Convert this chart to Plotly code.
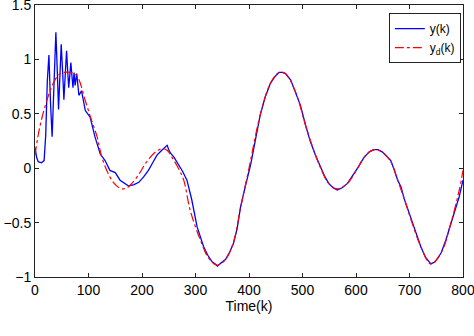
import plotly.graph_objects as go

# desired trajectory y_d(k)
k_d = [0, 9, 22, 34, 45, 55, 65, 78, 94, 105, 116, 125, 140, 152, 162, 172, 181, 195,
       206, 222, 232, 240, 248, 256, 268, 278, 290, 309, 325, 340, 356, 371, 384, 400,
       421, 440, 456, 468, 487, 506, 515, 534, 549, 565, 584, 603, 615, 628, 636, 649,
       665, 678, 690, 702, 721, 740, 759, 777, 793, 800]
y_d = [0.12, 0.38, 0.62, 0.78, 0.86, 0.88, 0.88, 0.85, 0.62, 0.45, 0.29, 0.10, -0.08, -0.16,
       -0.19, -0.18, -0.14, -0.05, 0.04, 0.135, 0.17, 0.18, 0.16, 0.10, 0.0, -0.11, -0.385,
       -0.66, -0.83, -0.89, -0.84, -0.68, -0.37, 0.0, 0.49, 0.78, 0.88, 0.87, 0.70, 0.39,
       0.25, 0.0, -0.14, -0.19, -0.14, 0.0, 0.10, 0.16, 0.17, 0.15, 0.06, -0.11, -0.28,
       -0.46, -0.72, -0.88, -0.78, -0.51, -0.20, -0.02]

# system output y(k)
k_y = [0, 3, 6, 12, 17, 20, 23, 26, 29, 32, 35, 39, 42, 44, 47, 49, 52, 54, 57, 59, 61, 63,
       65, 67, 69, 71, 73, 75, 78, 82, 87, 94, 103, 112, 122, 131, 140, 150, 159, 168, 175,
       185, 194, 203, 212, 220, 228, 237, 243, 247, 250, 253, 260, 268, 276, 284, 293, 303,
       315, 323, 331, 337, 341, 348, 356, 364, 371, 378, 384, 393, 403, 412, 421, 430, 440,
       448, 456, 462, 468, 478, 487, 496, 506, 515, 525, 534, 542, 549, 557, 565, 574, 584,
       594, 603, 615, 625, 634, 641, 649, 657, 665, 671, 678, 684, 690, 702, 712, 721, 730,
       740, 748, 759, 768, 777, 785, 793, 800]
y_y = [0.19, 0.10, 0.06, 0.05, 0.07, 0.3, 0.8, 1.04, 0.6, 0.29, 0.7, 1.25, 0.85, 0.54, 0.9,
       1.14, 0.85, 0.63, 0.9, 1.08, 0.9, 0.74, 0.85, 0.97, 0.85, 0.74, 0.88, 0.76, 0.87, 0.67,
       0.71, 0.53, 0.47, 0.29, 0.13, 0.07, -0.02, -0.04, -0.11, -0.14, -0.165, -0.15, -0.13,
       -0.08, -0.02, 0.05, 0.12, 0.165, 0.19, 0.21, 0.17, 0.14, 0.10, 0.04, -0.03, -0.11,
       -0.29, -0.54, -0.72, -0.80, -0.86, -0.88, -0.90, -0.87, -0.84, -0.77, -0.69, -0.55,
       -0.36, -0.17, 0.03, 0.26, 0.49, 0.65, 0.78, 0.84, 0.88, 0.88, 0.87, 0.81, 0.70, 0.58,
       0.39, 0.24, 0.11, 0.0, -0.08, -0.14, -0.18, -0.20, -0.18, -0.14, -0.07, 0.0, 0.10,
       0.15, 0.17, 0.17, 0.15, 0.11, 0.07, -0.01, -0.11, -0.17, -0.28, -0.45, -0.60, -0.72,
       -0.82, -0.88, -0.86, -0.78, -0.66, -0.51, -0.38, -0.26, -0.11]

x_ticks = [0, 100, 200, 300, 400, 500, 600, 700, 800]
y_ticks = [-1, -0.5, 0, 0.5, 1, 1.5]
y_tick_text = ["\u22121", "\u22120.5", "0", "0.5", "1", "1.5"]

FONT = "Liberation Sans, Arial"

fig = go.Figure()
fig.add_trace(go.Scatter(x=k_y, y=y_y, mode="lines", name="y(k)",
                         line=dict(color="#0000ff", width=1.3)))
fig.add_trace(go.Scatter(x=k_d, y=y_d, mode="lines", name="y<sub>d</sub>(k)",
                         line=dict(color="#ff0000", width=1.2, dash="dashdot", shape="spline")))

axis_common = dict(showline=True, linecolor="#222", linewidth=1, mirror="ticks",
                   ticks="inside", ticklen=4, tickcolor="#222", showgrid=False,
                   zeroline=False, ticklabeloverflow="allow", automargin=False,
                   tickfont=dict(family=FONT, size=14, color="#000"))

fig.update_layout(
    width=474, height=336,
    margin=dict(l=35, r=11, t=5, b=59),
    paper_bgcolor="white", plot_bgcolor="white",
    showlegend=True,
    legend=dict(x=0.995, y=0.97, xanchor="right", yanchor="top",
                bgcolor="white", bordercolor="#222", borderwidth=1,
                font=dict(family=FONT, size=12, color="#000"),
                tracegroupgap=0, itemwidth=30),
    xaxis=dict(range=[0, 800], tickvals=x_ticks,
               title=dict(text="Time(k)", standoff=0,
                          font=dict(family=FONT, size=14, color="#000")),
               **axis_common),
    yaxis=dict(range=[-1, 1.5], tickvals=y_ticks, ticktext=y_tick_text, **axis_common),
)

fig.write_html("out.html")
